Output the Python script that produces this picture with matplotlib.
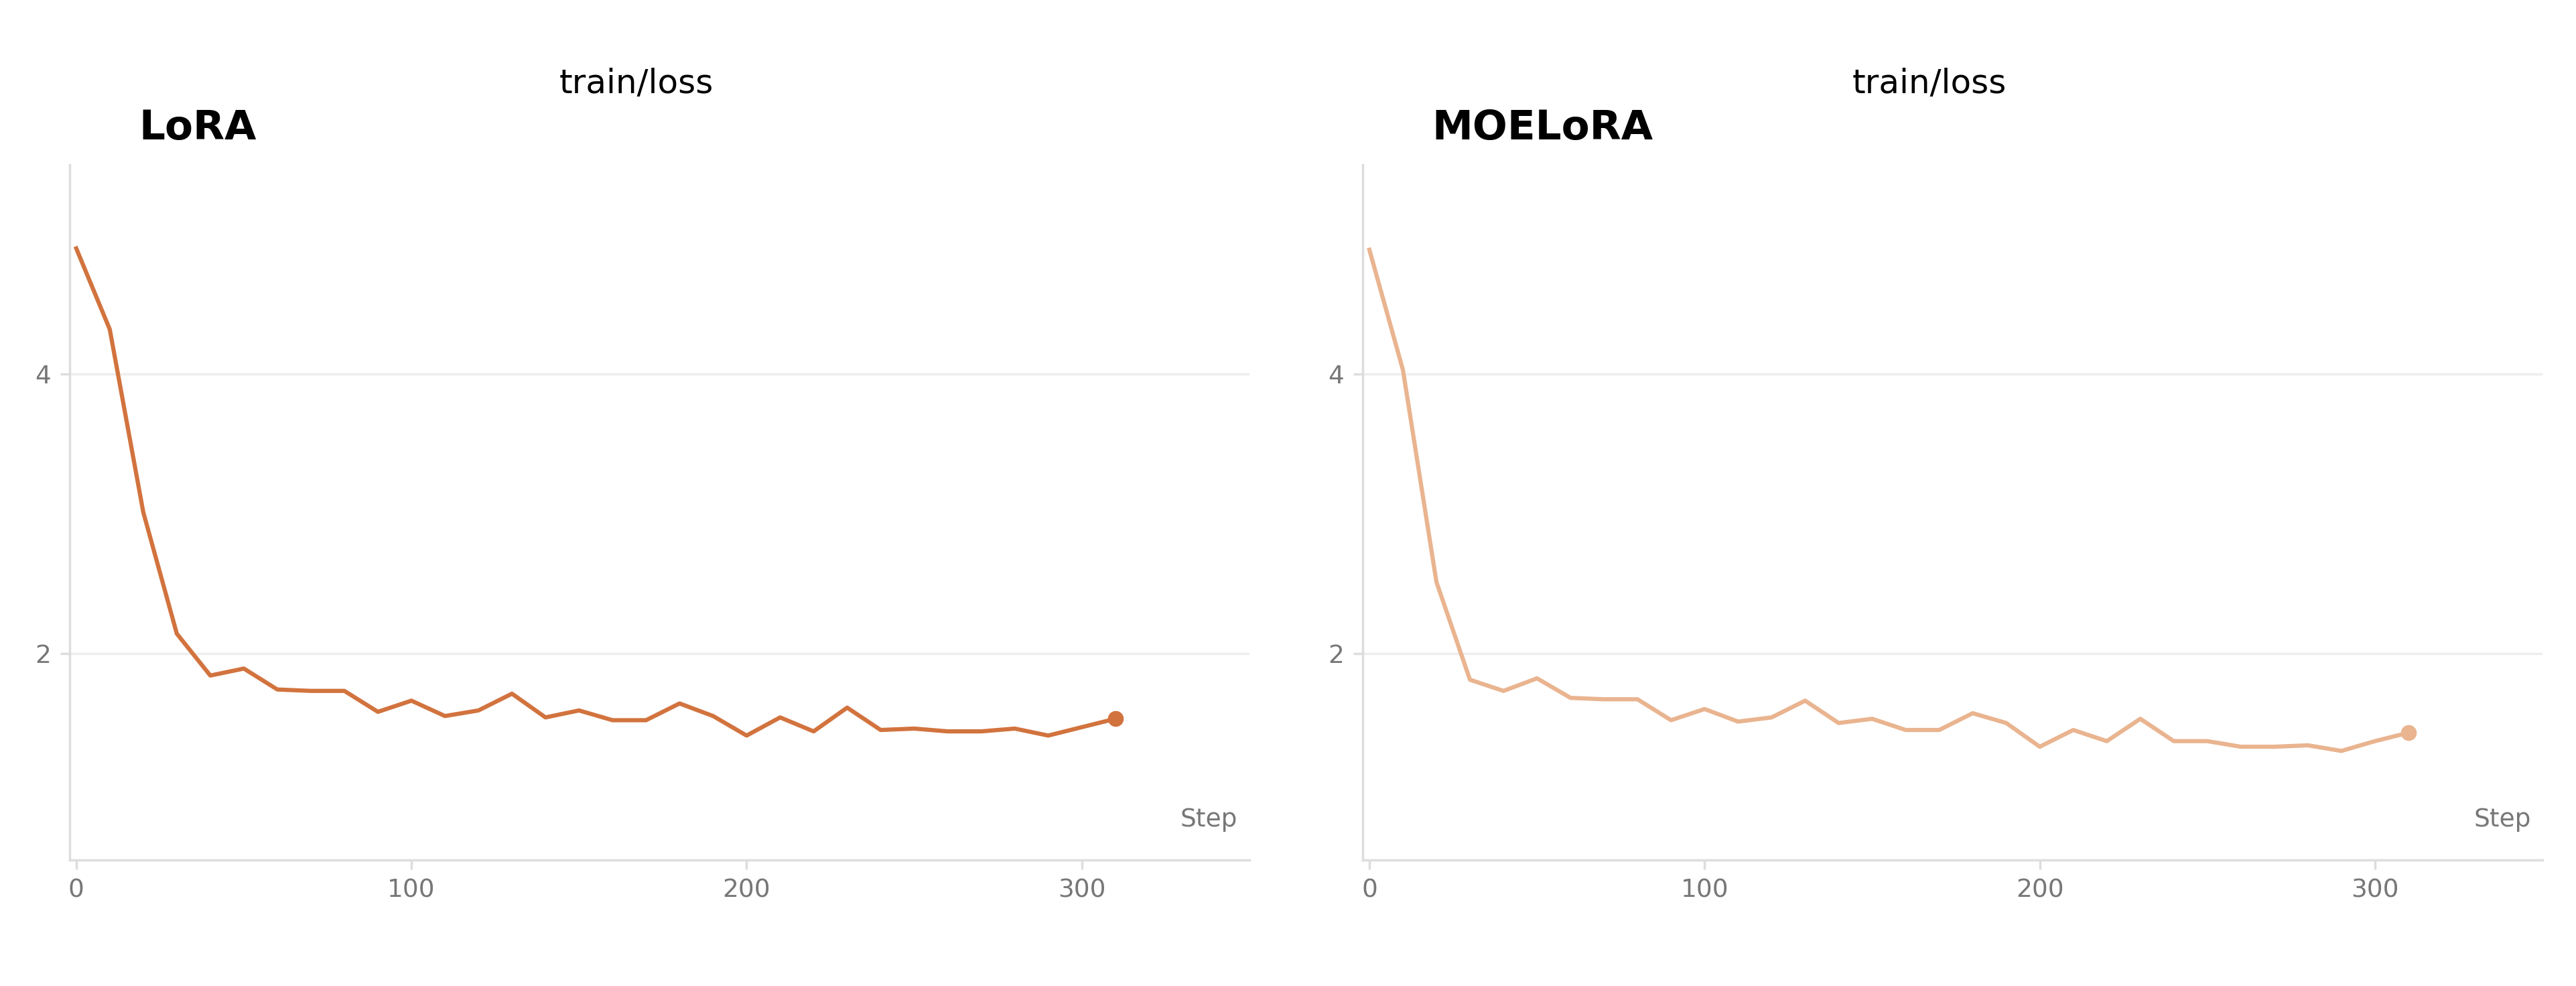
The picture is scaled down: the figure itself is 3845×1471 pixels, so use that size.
import matplotlib.pyplot as plt

steps = list(range(0, 320, 10))
lora_loss = [4.90, 4.32, 3.01, 2.14, 1.84, 1.89, 1.74, 1.73, 1.73, 1.58, 1.66, 1.55,
             1.59, 1.71, 1.54, 1.59, 1.52, 1.52, 1.64, 1.55, 1.41, 1.54, 1.44, 1.61,
             1.45, 1.46, 1.44, 1.44, 1.46, 1.41, 1.47, 1.53]
moelora_loss = [4.89, 4.03, 2.51, 1.81, 1.73, 1.82, 1.68, 1.67, 1.67, 1.52, 1.60, 1.51,
                1.54, 1.66, 1.50, 1.53, 1.45, 1.45, 1.57, 1.50, 1.33, 1.45, 1.37, 1.53,
                1.37, 1.37, 1.33, 1.33, 1.34, 1.30, 1.37, 1.43]

panels = [
    ('LoRA', lora_loss, '#D2733E', [0.027, 0.128, 0.458, 0.705]),
    ('MOELoRA', moelora_loss, '#E9B48F', [0.529, 0.128, 0.458, 0.705]),
]

fig = plt.figure(figsize=(38.45, 14.71), dpi=100)
for name, loss, color, rect in panels:
    ax = fig.add_axes(rect)
    ax.plot(steps, loss, color=color, lw=4.5)
    ax.plot(steps[-1], loss[-1], 'o', color=color, ms=16)
    ax.set_xlim(-2, 350)
    ax.set_ylim(0.52, 5.5)
    ax.set_yticks([2, 4])
    ax.set_xticks([0, 100, 200, 300])
    ax.grid(axis='y', color='#EEEEEE', lw=2.5)
    for s in ['top', 'right']:
        ax.spines[s].set_visible(False)
    for s in ['left', 'bottom']:
        ax.spines[s].set_color('#DDDDDD')
        ax.spines[s].set_linewidth(2.5)
    ax.tick_params(colors='#DDDDDD', labelcolor='#777777', labelsize=27, length=10,
                   width=2.5, pad=10)
    ax.text(0.99, 0.04, 'Step', transform=ax.transAxes, ha='right', va='bottom',
            fontsize=27, color='#777777')
    x0 = rect[0]
    fig.text(x0 + 0.22, 0.915, 'train/loss', ha='center', va='center', fontsize=36)
    fig.text(x0 + 0.027, 0.87, name, ha='left', va='center', fontsize=44, fontweight='bold')

fig.savefig('out.png', dpi=100)
